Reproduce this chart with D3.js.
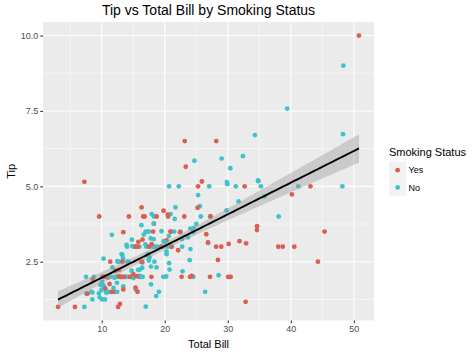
<!DOCTYPE html>
<html><head><meta charset="utf-8">
<script src="https://cdn.jsdelivr.net/npm/d3@7"></script>
<style>body{margin:0;background:#fff;} text{font-family:"Liberation Sans",Arial,sans-serif;}</style>
</head><body><svg id="c" width="474" height="355"></svg>
<script>
const totalBill = [16.99,10.34,21.01,23.68,24.59,25.29,8.77,26.88,15.04,14.78,10.27,35.26,15.42,18.43,14.83,21.58,10.33,16.29,16.97,20.65,
17.92,20.29,15.77,39.42,19.82,17.81,13.37,12.69,21.7,19.65,9.55,18.35,15.06,20.69,17.78,24.06,16.31,16.93,18.69,31.27,
16.04,17.46,13.94,9.68,30.4,18.29,22.23,32.4,28.55,18.04,12.54,10.29,34.81,9.94,25.56,19.49,38.01,26.41,11.24,48.27,
20.29,13.81,11.02,18.29,17.59,20.08,16.45,3.07,20.23,15.01,12.02,17.07,26.86,25.28,14.73,10.51,17.92,27.2,22.76,17.29,
19.44,16.66,10.07,32.68,15.98,34.83,13.03,18.28,24.71,21.16,28.97,22.49,5.75,16.32,22.75,40.17,27.28,12.03,21.01,12.46,
11.35,15.38,44.3,22.42,20.92,15.36,20.49,25.21,18.24,14.31,14.0,7.25,38.07,23.95,25.71,17.31,29.93,10.65,12.43,24.08,
11.69,13.42,14.26,15.95,12.48,29.8,8.52,14.52,11.38,22.82,19.08,20.27,11.17,12.26,18.26,8.51,10.33,14.15,16.0,13.16,
17.47,34.3,41.19,27.05,16.43,8.35,18.64,11.87,9.78,7.51,14.07,13.13,17.26,24.55,19.77,29.85,48.17,25.0,13.39,16.49,
21.5,12.66,16.21,13.81,17.51,24.52,20.76,31.71,10.59,10.63,50.81,15.81,7.25,31.85,16.82,32.9,17.89,14.48,9.6,34.63,
34.65,23.33,45.35,23.17,40.55,20.69,20.9,30.46,18.15,23.1,15.69,19.81,28.44,15.48,16.58,7.56,10.34,43.11,13.0,13.51,
18.71,12.74,13.0,16.4,20.53,16.47,26.59,38.73,24.27,12.76,30.06,25.89,48.33,13.27,28.17,12.9,28.15,11.59,7.74,30.14,
12.16,13.42,8.58,15.98,13.42,16.27,10.09,20.45,13.28,22.12,24.01,15.69,11.61,10.77,15.53,10.07,12.6,32.83,35.83,29.03,
27.18,22.67,17.82,18.78];
const tip = [1.01,1.66,3.5,3.31,3.61,4.71,2.0,3.12,1.96,3.23,1.71,5.0,1.57,3.0,3.02,3.92,1.67,3.71,3.5,3.35,
4.08,2.75,2.23,7.58,3.18,2.34,2.0,2.0,4.3,3.0,1.45,2.5,3.0,2.45,3.27,3.6,2.0,3.07,2.31,5.0,
2.24,2.54,3.06,1.32,5.6,3.0,5.0,6.0,2.05,3.0,2.5,2.6,5.2,1.56,4.34,3.51,3.0,1.5,1.76,6.73,
3.21,2.0,1.98,3.76,2.64,3.15,2.47,1.0,2.01,2.09,1.97,3.0,3.14,5.0,2.2,1.25,3.08,4.0,3.0,2.71,
3.0,3.4,1.83,5.0,2.03,5.17,2.0,4.0,5.85,3.0,3.0,3.5,1.0,4.3,3.25,4.73,4.0,1.5,3.0,1.5,
2.5,3.0,2.5,3.48,4.08,1.64,4.06,4.29,3.76,4.0,3.0,1.0,4.0,2.55,4.0,3.5,5.07,1.5,1.8,2.92,
2.31,1.68,2.5,2.0,2.52,4.2,1.48,2.0,2.0,2.18,1.5,2.83,1.5,2.0,3.25,1.25,2.0,2.0,2.0,2.75,
3.5,6.7,5.0,5.0,2.3,1.5,1.36,1.63,1.73,2.0,2.5,2.0,2.74,2.0,2.0,5.14,5.0,3.75,2.61,2.0,
3.5,2.5,2.0,2.0,3.0,3.48,2.24,4.5,1.61,2.0,10.0,3.16,5.15,3.18,4.0,3.11,2.0,2.0,4.0,3.55,
3.68,5.65,3.5,6.5,3.0,5.0,3.5,2.0,3.5,4.0,1.5,4.19,2.56,2.02,4.0,1.44,2.0,5.0,2.0,2.0,
4.0,2.01,2.0,2.5,4.0,3.23,3.41,3.0,2.03,2.23,2.0,5.16,9.0,2.5,6.5,1.1,3.0,1.5,1.44,3.09,
2.2,3.48,1.92,3.0,1.58,2.5,2.0,3.0,2.72,2.88,2.0,3.0,3.39,1.47,3.0,1.25,1.0,1.17,4.67,5.92,
2.0,2.0,1.75,3.0];
const smoker = ["No","No","No","No","No","No","No","No","No","No","No","No","No","No","No","No","No","No","No","No",
"No","No","No","No","No","No","No","No","No","No","No","No","No","No","No","No","No","No","No","No",
"No","No","No","No","No","No","No","No","No","No","No","No","No","No","No","No","Yes","No","Yes","No",
"Yes","Yes","Yes","Yes","No","No","No","Yes","No","Yes","No","No","Yes","Yes","No","No","Yes","No","No","No",
"Yes","No","No","Yes","No","No","No","No","No","No","Yes","No","Yes","Yes","No","Yes","Yes","Yes","Yes","No",
"Yes","Yes","Yes","Yes","No","Yes","Yes","Yes","No","Yes","No","No","No","No","No","No","No","No","No","No",
"No","No","No","No","No","No","No","No","No","No","No","No","No","No","No","No","No","No","Yes","No",
"No","No","No","No","No","No","No","No","No","No","No","No","No","No","No","No","No","No","No","No",
"No","No","No","No","Yes","No","No","No","Yes","Yes","Yes","Yes","Yes","Yes","Yes","Yes","Yes","Yes","Yes","Yes",
"Yes","Yes","Yes","Yes","Yes","No","Yes","Yes","Yes","Yes","Yes","Yes","Yes","Yes","Yes","No","Yes","Yes","Yes","Yes",
"Yes","Yes","Yes","Yes","Yes","Yes","Yes","Yes","Yes","Yes","Yes","Yes","No","Yes","Yes","Yes","Yes","Yes","Yes","Yes",
"Yes","Yes","Yes","No","Yes","Yes","Yes","No","No","Yes","Yes","Yes","No","No","Yes","No","Yes","Yes","No","No",
"Yes","Yes","No","No"];
const xTicks = [10,20,30,40,50];
const yTicks = [2.5,5.0,7.5,10.0];
const xMinor = [5,15,25,35,45];
const yMinor = [1.25,3.75,6.25,8.75];
const legendLevels = ["Yes","No"];
const legendColors = ["#DC5D52","#3EC3CB"];
const titleText = "Tip vs Total Bill by Smoking Status";
const xTitle = "Total Bill", yTitle = "Tip", legendTitle = "Smoking Status";

const svg = d3.select("#c");
const L=43, R=374, T=22, B=320.5;
const xr = d3.extent(totalBill), yr = d3.extent(tip);
const xp = (xr[1]-xr[0])*0.05, yp=(yr[1]-yr[0])*0.05;
const x = d3.scaleLinear().domain([xr[0]-xp, xr[1]+xp]).range([L,R]);
const y = d3.scaleLinear().domain([yr[0]-yp, yr[1]+yp]).range([B,T]);
const color = d3.scaleOrdinal().domain(legendLevels).range(legendColors);

svg.append("rect").attr("x",L).attr("y",T).attr("width",R-L).attr("height",B-T).attr("fill","#EBEBEB");
const g = svg.append("g");
xMinor.forEach(v=>g.append("line").attr("x1",x(v)).attr("x2",x(v)).attr("y1",T).attr("y2",B).attr("stroke","#fff").attr("stroke-width",0.55));
yMinor.forEach(v=>g.append("line").attr("y1",y(v)).attr("y2",y(v)).attr("x1",L).attr("x2",R).attr("stroke","#fff").attr("stroke-width",0.55));
xTicks.forEach(v=>g.append("line").attr("x1",x(v)).attr("x2",x(v)).attr("y1",T).attr("y2",B).attr("stroke","#fff").attr("stroke-width",1.1));
yTicks.forEach(v=>g.append("line").attr("y1",y(v)).attr("y2",y(v)).attr("x1",L).attr("x2",R).attr("stroke","#fff").attr("stroke-width",1.1));

// points
const idx = d3.range(totalBill.length);
svg.append("g").selectAll("circle").data(idx).join("circle")
  .attr("cx",i=>x(totalBill[i])).attr("cy",i=>y(tip[i])).attr("r",2.4)
  .attr("fill",i=>color(smoker[i]));

// regression with 95% CI
const n = totalBill.length;
const mx = d3.mean(totalBill), my = d3.mean(tip);
let sxx=0, sxy=0;
for (let i=0;i<n;i++){ sxx+=(totalBill[i]-mx)**2; sxy+=(totalBill[i]-mx)*(tip[i]-my); }
const b1 = sxy/sxx, b0 = my-b1*mx;
let sse=0; for (let i=0;i<n;i++){ sse+=(tip[i]-b0-b1*totalBill[i])**2; }
const s = Math.sqrt(sse/(n-2)), tq = 1.9698;
const grid = d3.range(80).map(k=>xr[0]+(xr[1]-xr[0])*k/79);
const band = grid.map(v=>{const f=b0+b1*v; const se=s*Math.sqrt(1/n+(v-mx)**2/sxx); return {x:v,f,lo:f-tq*se,hi:f+tq*se};});
svg.append("path").datum(band).attr("fill","#999999").attr("fill-opacity",0.4)
  .attr("d",d3.area().x(d=>x(d.x)).y0(d=>y(d.lo)).y1(d=>y(d.hi)));
svg.append("path").datum(band).attr("fill","none").attr("stroke","#000").attr("stroke-width",1.9)
  .attr("d",d3.line().x(d=>x(d.x)).y(d=>y(d.f)));

// axes
const xa = svg.append("g").attr("transform",`translate(0,${B})`)
  .call(d3.axisBottom(x).tickValues(xTicks).tickSize(2.7).tickPadding(2).tickFormat(d3.format("d")));
const ya = svg.append("g").attr("transform",`translate(${L},0)`)
  .call(d3.axisLeft(y).tickValues(yTicks).tickSize(2.7).tickPadding(2).tickFormat(d3.format(".1f")));
[xa,ya].forEach(a=>{a.select(".domain").remove();
  a.selectAll(".tick line").attr("stroke","#333").attr("stroke-width",1.1);
  a.selectAll(".tick text").attr("fill","#4D4D4D").style("font-size","9px").style("font-family","Liberation Sans, Arial, sans-serif");});

// titles
svg.append("text").attr("x",(L+R)/2).attr("y",15).attr("text-anchor","middle").style("font-size","14px").attr("fill","#000").text(titleText);
svg.append("text").attr("x",(L+R)/2).attr("y",347.5).attr("text-anchor","middle").style("font-size","11px").attr("fill","#000").text(xTitle);
svg.append("text").attr("transform",`translate(15,${(T+B)/2}) rotate(-90)`).attr("text-anchor","middle").style("font-size","11px").attr("fill","#000").text(yTitle);

// legend
const lg = svg.append("g");
lg.append("text").attr("x",389).attr("y",155.5).style("font-size","11px").attr("fill","#000").text(legendTitle);
legendLevels.forEach((lv,k)=>{
  const ky = 161.5 + k*17.3;
  lg.append("rect").attr("x",389).attr("y",ky).attr("width",17.3).attr("height",17.3).attr("fill","#F2F2F2");
  lg.append("circle").attr("cx",389+8.65).attr("cy",ky+8.65).attr("r",2.4).attr("fill",color(lv));
  lg.append("text").attr("x",408.5).attr("y",ky+8.65).attr("dy","0.35em").style("font-size","9px").attr("fill","#000").text(lv);
});
</script></body></html>
